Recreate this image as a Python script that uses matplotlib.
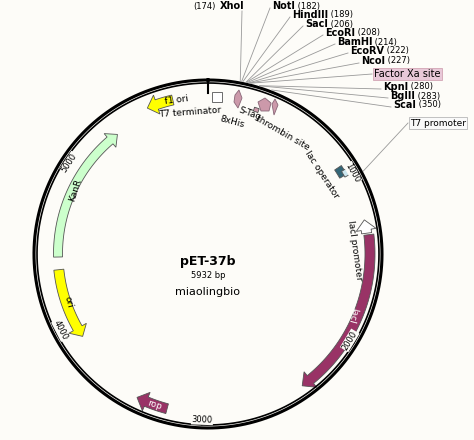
import numpy as np
import matplotlib.pyplot as plt
from matplotlib.patches import Polygon

# plasmid
name = "pET-37b"
total_bp = 5932
vendor = "miaolingbio"

# restriction sites: name, bp
site_names = ["XhoI", "NotI", "HindIII", "SacI", "EcoRI", "BamHI", "EcoRV", "NcoI", "KpnI", "BglII", "ScaI"]
site_bp = [174, 182, 189, 206, 208, 214, 222, 227, 280, 283, 350]

# features: name, start bp, end bp, direction (1 clockwise, -1 counter), color
feat_names = ["f1 ori", "KanR", "ori", "rop", "lacI", "lac operator"]
feat_start = [5560, 4430, 3900, 3210, 1370, 930]
feat_end = [5720, 5320, 4350, 3400, 2380, 990]
feat_dir = [-1, 1, -1, 1, 1, 0]
feat_col = ["#ffff00", "#ccffcc", "#ffff00", "#993366", "#993366", "#336677"]

ticks_bp = [1000, 2000, 3000, 4000, 5000]

cx, cy, R = 208, 254, 174


def ang(bp):
    return np.radians(bp / total_bp * 360)


def pt(bp, r):
    a = ang(bp)
    return cx + r * np.sin(a), cy - r * np.cos(a)


fig = plt.figure(figsize=(4.74, 4.40), dpi=100)
fig.patch.set_facecolor("#fdfcf8")
ax = fig.add_axes([0, 0, 1, 1])
ax.set_xlim(0, 474)
ax.set_ylim(440, 0)
ax.axis("off")

# backbone
t = np.linspace(0, total_bp, 600)
for r, lw in [(R, 2.2), (R - 3, 1.2)]:
    xs, ys = zip(*[pt(b, r) for b in t])
    ax.plot(xs, ys, color="black", lw=lw)
ax.plot([cx, cx], [cy - R + 1, cy - R + 13], color="black", lw=1.5)

for b in ticks_bp:
    x1, y1 = pt(b, R - 3)
    x2, y2 = pt(b, R - 8)
    ax.plot([x1, x2], [y1, y2], color="black", lw=0.8)
    x, y = pt(b, R - 8)
    deg = b / total_bp * 360
    rot = -deg + 180 if 90 < deg < 270 else -deg
    ax.text(x, y, str(b), fontsize=6, ha="center", va="center", rotation=rot,
            bbox=dict(boxstyle="square,pad=0.05", fc="#fdfcf8", ec="none"))


def arc_arrow(s, e, d, r, w, col):
    head = 60 if d != 0 else 0
    if d == 1:
        body = np.linspace(s, e - head, 60)
        tip = e
    else:
        body = np.linspace(s + head, e, 60)[::-1]
        tip = s
    outer = [pt(b, r + w / 2) for b in body]
    inner = [pt(b, r - w / 2) for b in body[::-1]]
    if d == 0:
        poly = outer + inner
    else:
        hb = body[-1]
        poly = outer + [pt(hb, r + w), pt(tip, r), pt(hb, r - w)] + inner
    ax.add_patch(Polygon(poly, closed=True, fc=col, ec="#555555", lw=0.6))


radii = [158, 150, 150, 160, 162, 156]
widths = [10, 9, 10, 10, 10, 8]
for n, s, e, d, c, r, w in zip(feat_names, feat_start, feat_end, feat_dir, feat_col, radii, widths):
    arc_arrow(s, e, d, r, w, c)

# small features near top
ax.add_patch(Polygon([(212, 92), (222, 92), (222, 102), (212, 102)], fc="white", ec="#555555", lw=0.6))
arc_arrow(960, 1000, 0, 160, 6, "#cce6ee")
arc_arrow(1280, 1360, -1, 160, 10, "white")
arc_arrow(290, 320, 0, 152, 4, "#cc99aa")
ax.add_patch(Polygon([(258, 102), (265, 98), (271, 103), (269, 111), (261, 111)], fc="#cc99aa", ec="#886677", lw=0.6))
ax.add_patch(Polygon([(235, 95), (239, 90), (242, 98), (238, 108), (234, 102)], fc="#cc99aa", ec="#886677", lw=0.6))
ax.add_patch(Polygon([(272, 104), (275, 99), (278, 105), (274, 115)], fc="#cc99aa", ec="#886677", lw=0.6))

# feature labels
ax.text(176, 100, "f1 ori", fontsize=6.5, ha="center", va="center", rotation=7)
ax.text(190, 112, "T7 terminator", fontsize=6.5, ha="center", va="center", rotation=4)
ax.text(232, 122, "8xHis", fontsize=6.5, ha="center", va="center", rotation=-15)
ax.text(250, 114, "S-Tag", fontsize=6.5, ha="center", va="center", rotation=-20)
ax.text(283, 133, "thrombin site", fontsize=6.5, ha="center", va="center", rotation=-30)
ax.text(322, 175, "lac operator", fontsize=6.5, ha="center", va="center", rotation=-57)
ax.text(355, 250, "lacI promoter", fontsize=6.5, ha="center", va="center", rotation=-82)
ax.text(353, 315, "lacI", fontsize=6.5, ha="center", va="center", color="white", rotation=-105)
ax.text(75, 190, "KanR", fontsize=6.5, ha="center", va="center", rotation=72)
ax.text(68, 302, "ori", fontsize=6.5, ha="center", va="center", rotation=-75)
ax.text(155, 405, "rop", fontsize=6.5, ha="center", va="center", color="white", rotation=-18)

# sites with leader lines
lab_xy = [(222, 6), (272, 6), (292, 15), (305, 24), (325, 33), (337, 42), (350, 51), (361, 61),
          (383, 87), (390, 96), (393, 105)]
for n, b, (lx, ly) in zip(site_names, site_bp, lab_xy):
    x0, y0 = pt(b, R + 2)
    if n == "XhoI":
        ax.plot([x0, lx + 20], [y0, ly + 5], color="#999999", lw=0.6)
        ax.text(lx + 22, ly, n, fontsize=7, fontweight="bold", ha="right", va="center")
        ax.text(lx - 6, ly, "(%d)" % b, fontsize=6, ha="right", va="center")
    else:
        ax.plot([x0, lx - 2], [y0, ly + 2], color="#999999", lw=0.6)
        tx = ax.text(lx, ly, n, fontsize=7, fontweight="bold", ha="left", va="center")
        ax.annotate(" (%d)" % b, xycoords=tx, xy=(1, 0.5), va="center", fontsize=6)

x0, y0 = pt(230, R + 2)
ax.plot([x0, 372], [y0, 74], color="#999999", lw=0.6)
ax.text(374, 74, "Factor Xa site", fontsize=7, ha="left", va="center",
        bbox=dict(boxstyle="square,pad=0.15", fc="#e8c8d8", ec="#cc99aa", lw=0.5))
x0, y0 = pt(1020, R + 2)
ax.plot([x0, 408], [y0, 123], color="#999999", lw=0.6)
ax.text(410, 123, "T7 promoter", fontsize=6.5, ha="left", va="center",
        bbox=dict(boxstyle="square,pad=0.15", fc="#fafafa", ec="#aaaaaa", lw=0.5))

# center
ax.text(cx, 262, name, fontsize=9, fontweight="bold", ha="center", va="center")
ax.text(cx, 275, "%d bp" % total_bp, fontsize=6, ha="center", va="center")
ax.text(cx, 292, vendor, fontsize=8, ha="center", va="center")

plt.savefig("out.png", dpi=100, facecolor=fig.get_facecolor())
